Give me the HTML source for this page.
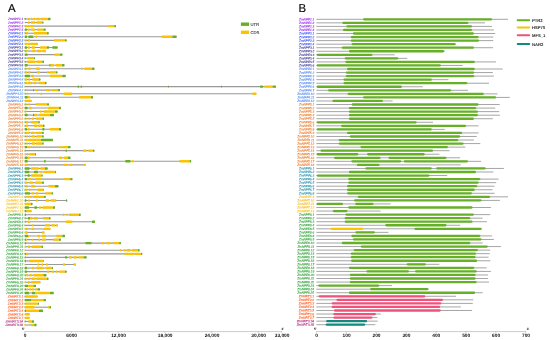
<!DOCTYPE html>
<html lang="en"><head><meta charset="utf-8"><title>Figure</title>
<style>html,body{margin:0;padding:0;background:#fff}svg{display:block}</style></head>
<body>
<svg width="550" height="340" viewBox="0 0 550 340" font-family="'Liberation Sans', sans-serif" text-rendering="geometricPrecision">
<rect width="550" height="340" fill="#fff"/>
<text x="8.1" y="12.1" font-size="11.4" fill="#000" stroke="#000" stroke-width="0.15">A</text>
<text x="298.6" y="12.1" font-size="11.4" fill="#000" stroke="#000" stroke-width="0.15">B</text>
<g font-size="3.2" font-style="italic" font-weight="normal" text-anchor="end" stroke-width="0.12" transform="rotate(0.03 15 170)" opacity="1.0">
<text x="23.3" y="20.10" fill="#9a2cf0" stroke="#9a2cf0">ZmNPF1.1</text>
<text x="23.3" y="23.66" fill="#9a2cf0" stroke="#9a2cf0">ZmNPF1.2</text>
<text x="23.3" y="27.22" fill="#9a2cf0" stroke="#9a2cf0">ZmNPF1.3</text>
<text x="23.3" y="30.77" fill="#9a2cf0" stroke="#9a2cf0">ZmNPF1.4</text>
<text x="23.3" y="34.33" fill="#3d5af5" stroke="#3d5af5">ZmNPF2.1</text>
<text x="23.3" y="37.89" fill="#3d5af5" stroke="#3d5af5">ZmNPF2.2</text>
<text x="23.3" y="41.45" fill="#3d5af5" stroke="#3d5af5">ZmNPF2.3</text>
<text x="23.3" y="45.01" fill="#3d5af5" stroke="#3d5af5">ZmNPF2.4</text>
<text x="23.3" y="48.56" fill="#4a4596" stroke="#4a4596">ZmNPF3.1</text>
<text x="23.3" y="52.12" fill="#4a4596" stroke="#4a4596">ZmNPF3.2</text>
<text x="23.3" y="55.68" fill="#4a4596" stroke="#4a4596">ZmNPF3.3</text>
<text x="23.3" y="59.24" fill="#4a4596" stroke="#4a4596">ZmNPF3.4</text>
<text x="23.3" y="62.80" fill="#4a4596" stroke="#4a4596">ZmNPF3.5</text>
<text x="23.3" y="66.35" fill="#4a4596" stroke="#4a4596">ZmNPF3.6</text>
<text x="23.3" y="69.91" fill="#5c8ff0" stroke="#5c8ff0">ZmNPF4.1</text>
<text x="23.3" y="73.47" fill="#5c8ff0" stroke="#5c8ff0">ZmNPF4.2</text>
<text x="23.3" y="77.03" fill="#5c8ff0" stroke="#5c8ff0">ZmNPF4.3</text>
<text x="23.3" y="80.59" fill="#5c8ff0" stroke="#5c8ff0">ZmNPF4.4</text>
<text x="23.3" y="84.14" fill="#5c8ff0" stroke="#5c8ff0">ZmNPF4.5</text>
<text x="23.3" y="87.70" fill="#5c8ff0" stroke="#5c8ff0">ZmNPF4.6</text>
<text x="23.3" y="91.26" fill="#5c8ff0" stroke="#5c8ff0">ZmNPF4.7</text>
<text x="23.3" y="94.82" fill="#5c8ff0" stroke="#5c8ff0">ZmNPF4.10</text>
<text x="23.3" y="98.38" fill="#5c8ff0" stroke="#5c8ff0">ZmNPF4.11</text>
<text x="23.3" y="101.93" fill="#5c8ff0" stroke="#5c8ff0">ZmNPF4.12</text>
<text x="23.3" y="105.49" fill="#e8833a" stroke="#e8833a">ZmNPF5.1</text>
<text x="23.3" y="109.05" fill="#e8833a" stroke="#e8833a">ZmNPF5.2</text>
<text x="23.3" y="112.61" fill="#e8833a" stroke="#e8833a">ZmNPF5.3</text>
<text x="23.3" y="116.17" fill="#e8833a" stroke="#e8833a">ZmNPF5.4</text>
<text x="23.3" y="119.72" fill="#e8833a" stroke="#e8833a">ZmNPF5.5</text>
<text x="23.3" y="123.28" fill="#e8833a" stroke="#e8833a">ZmNPF5.6</text>
<text x="23.3" y="126.84" fill="#e8833a" stroke="#e8833a">ZmNPF5.7</text>
<text x="23.3" y="130.40" fill="#e8833a" stroke="#e8833a">ZmNPF5.8</text>
<text x="23.3" y="133.96" fill="#e8833a" stroke="#e8833a">ZmNPF5.9</text>
<text x="23.3" y="137.51" fill="#e8833a" stroke="#e8833a">ZmNPF5.10</text>
<text x="23.3" y="141.07" fill="#e8833a" stroke="#e8833a">ZmNPF5.11</text>
<text x="23.3" y="144.63" fill="#e8833a" stroke="#e8833a">ZmNPF5.12</text>
<text x="23.3" y="148.19" fill="#e8833a" stroke="#e8833a">ZmNPF5.13</text>
<text x="23.3" y="151.75" fill="#e8833a" stroke="#e8833a">ZmNPF5.14</text>
<text x="23.3" y="155.30" fill="#e8833a" stroke="#e8833a">ZmNPF5.15</text>
<text x="23.3" y="158.86" fill="#e8833a" stroke="#e8833a">ZmNPF5.16</text>
<text x="23.3" y="162.42" fill="#e8833a" stroke="#e8833a">ZmNPF5.17</text>
<text x="23.3" y="165.98" fill="#e8833a" stroke="#e8833a">ZmNPF5.18</text>
<text x="23.3" y="169.54" fill="#2f93ad" stroke="#2f93ad">ZmNPF6.1</text>
<text x="23.3" y="173.09" fill="#2f93ad" stroke="#2f93ad">ZmNPF6.2</text>
<text x="23.3" y="176.65" fill="#2f93ad" stroke="#2f93ad">ZmNPF6.3</text>
<text x="23.3" y="180.21" fill="#2f93ad" stroke="#2f93ad">ZmNPF6.4</text>
<text x="23.3" y="183.77" fill="#2f93ad" stroke="#2f93ad">ZmNPF6.5</text>
<text x="23.3" y="187.33" fill="#2f93ad" stroke="#2f93ad">ZmNPF6.6</text>
<text x="23.3" y="190.88" fill="#2f93ad" stroke="#2f93ad">ZmNPF6.7</text>
<text x="23.3" y="194.44" fill="#2f93ad" stroke="#2f93ad">ZmNPF6.8</text>
<text x="23.3" y="198.00" fill="#f5c030" stroke="#f5c030">ZmNPF7.9</text>
<text x="23.3" y="201.56" fill="#f5c030" stroke="#f5c030">ZmNPF7.10</text>
<text x="23.3" y="205.12" fill="#f5c030" stroke="#f5c030">ZmNPF7.11</text>
<text x="23.3" y="208.67" fill="#f5c030" stroke="#f5c030">ZmNPF7.12</text>
<text x="23.3" y="212.23" fill="#f5c030" stroke="#f5c030">ZmNPF7.13</text>
<text x="23.3" y="215.79" fill="#3aa840" stroke="#3aa840">ZmNPF8.1</text>
<text x="23.3" y="219.35" fill="#3aa840" stroke="#3aa840">ZmNPF8.2</text>
<text x="23.3" y="222.91" fill="#3aa840" stroke="#3aa840">ZmNPF8.3</text>
<text x="23.3" y="226.46" fill="#3aa840" stroke="#3aa840">ZmNPF8.4</text>
<text x="23.3" y="230.02" fill="#3aa840" stroke="#3aa840">ZmNPF8.5</text>
<text x="23.3" y="233.58" fill="#3aa840" stroke="#3aa840">ZmNPF8.6</text>
<text x="23.3" y="237.14" fill="#3aa840" stroke="#3aa840">ZmNPF8.8</text>
<text x="23.3" y="240.70" fill="#3aa840" stroke="#3aa840">ZmNPF8.9</text>
<text x="23.3" y="244.25" fill="#3aa840" stroke="#3aa840">ZmNPF8.10</text>
<text x="23.3" y="247.81" fill="#3aa840" stroke="#3aa840">ZmNPF8.11</text>
<text x="23.3" y="251.37" fill="#3aa840" stroke="#3aa840">ZmNPF8.12</text>
<text x="23.3" y="254.93" fill="#3aa840" stroke="#3aa840">ZmNPF8.14</text>
<text x="23.3" y="258.49" fill="#3aa840" stroke="#3aa840">ZmNPF8.15</text>
<text x="23.3" y="262.04" fill="#3aa840" stroke="#3aa840">ZmNPF8.16</text>
<text x="23.3" y="265.60" fill="#3aa840" stroke="#3aa840">ZmNPF8.17</text>
<text x="23.3" y="269.16" fill="#3aa840" stroke="#3aa840">ZmNPF8.18</text>
<text x="23.3" y="272.72" fill="#3aa840" stroke="#3aa840">ZmNPF8.19</text>
<text x="23.3" y="276.28" fill="#3aa840" stroke="#3aa840">ZmNPF8.20</text>
<text x="23.3" y="279.83" fill="#3aa840" stroke="#3aa840">ZmNPF8.21</text>
<text x="23.3" y="283.39" fill="#3aa840" stroke="#3aa840">ZmNPF8.22</text>
<text x="23.3" y="286.95" fill="#3aa840" stroke="#3aa840">ZmNPF8.23</text>
<text x="23.3" y="290.51" fill="#3aa840" stroke="#3aa840">ZmNPF8.24</text>
<text x="23.3" y="294.07" fill="#3aa840" stroke="#3aa840">ZmNPF8.25</text>
<text x="23.3" y="297.62" fill="#ff5a1e" stroke="#ff5a1e">ZmNRT2.1</text>
<text x="23.3" y="301.18" fill="#ff5a1e" stroke="#ff5a1e">ZmNRT2.2</text>
<text x="23.3" y="304.74" fill="#ff5a1e" stroke="#ff5a1e">ZmNRT2.3</text>
<text x="23.3" y="308.30" fill="#ff5a1e" stroke="#ff5a1e">ZmNRT2.4</text>
<text x="23.3" y="311.86" fill="#ff5a1e" stroke="#ff5a1e">ZmNRT2.5</text>
<text x="23.3" y="315.41" fill="#ff5a1e" stroke="#ff5a1e">ZmNRT2.6</text>
<text x="23.3" y="318.97" fill="#ff5a1e" stroke="#ff5a1e">ZmNRT2.7</text>
<text x="23.3" y="322.53" fill="#b0307f" stroke="#b0307f">ZmNRT3.1A</text>
<text x="23.3" y="326.09" fill="#b0307f" stroke="#b0307f">ZmNRT3.1B</text>
</g>
<g font-size="3.15" font-style="italic" font-weight="normal" text-anchor="end" stroke-width="0.12" transform="rotate(0.03 307 170)" opacity="1.0">
<text x="314.2" y="20.40" fill="#9a2cf0" stroke="#9a2cf0">ZmNPF1.1</text>
<text x="314.2" y="23.95" fill="#9a2cf0" stroke="#9a2cf0">ZmNPF1.2</text>
<text x="314.2" y="27.50" fill="#9a2cf0" stroke="#9a2cf0">ZmNPF1.3</text>
<text x="314.2" y="31.05" fill="#9a2cf0" stroke="#9a2cf0">ZmNPF1.4</text>
<text x="314.2" y="34.60" fill="#3d5af5" stroke="#3d5af5">ZmNPF2.1</text>
<text x="314.2" y="38.16" fill="#3d5af5" stroke="#3d5af5">ZmNPF2.2</text>
<text x="314.2" y="41.71" fill="#3d5af5" stroke="#3d5af5">ZmNPF2.3</text>
<text x="314.2" y="45.26" fill="#3d5af5" stroke="#3d5af5">ZmNPF2.4</text>
<text x="314.2" y="48.81" fill="#4a4596" stroke="#4a4596">ZmNPF3.1</text>
<text x="314.2" y="52.36" fill="#4a4596" stroke="#4a4596">ZmNPF3.2</text>
<text x="314.2" y="55.91" fill="#4a4596" stroke="#4a4596">ZmNPF3.3</text>
<text x="314.2" y="59.46" fill="#4a4596" stroke="#4a4596">ZmNPF3.4</text>
<text x="314.2" y="63.01" fill="#4a4596" stroke="#4a4596">ZmNPF3.5</text>
<text x="314.2" y="66.56" fill="#4a4596" stroke="#4a4596">ZmNPF3.6</text>
<text x="314.2" y="70.11" fill="#5c8ff0" stroke="#5c8ff0">ZmNPF4.1</text>
<text x="314.2" y="73.66" fill="#5c8ff0" stroke="#5c8ff0">ZmNPF4.2</text>
<text x="314.2" y="77.22" fill="#5c8ff0" stroke="#5c8ff0">ZmNPF4.3</text>
<text x="314.2" y="80.77" fill="#5c8ff0" stroke="#5c8ff0">ZmNPF4.4</text>
<text x="314.2" y="84.32" fill="#5c8ff0" stroke="#5c8ff0">ZmNPF4.5</text>
<text x="314.2" y="87.87" fill="#5c8ff0" stroke="#5c8ff0">ZmNPF4.6</text>
<text x="314.2" y="91.42" fill="#5c8ff0" stroke="#5c8ff0">ZmNPF4.7</text>
<text x="314.2" y="94.97" fill="#5c8ff0" stroke="#5c8ff0">ZmNPF4.10</text>
<text x="314.2" y="98.52" fill="#5c8ff0" stroke="#5c8ff0">ZmNPF4.11</text>
<text x="314.2" y="102.07" fill="#5c8ff0" stroke="#5c8ff0">ZmNPF4.12</text>
<text x="314.2" y="105.62" fill="#e8833a" stroke="#e8833a">ZmNPF5.1</text>
<text x="314.2" y="109.17" fill="#e8833a" stroke="#e8833a">ZmNPF5.2</text>
<text x="314.2" y="112.73" fill="#e8833a" stroke="#e8833a">ZmNPF5.3</text>
<text x="314.2" y="116.28" fill="#e8833a" stroke="#e8833a">ZmNPF5.4</text>
<text x="314.2" y="119.83" fill="#e8833a" stroke="#e8833a">ZmNPF5.5</text>
<text x="314.2" y="123.38" fill="#e8833a" stroke="#e8833a">ZmNPF5.6</text>
<text x="314.2" y="126.93" fill="#e8833a" stroke="#e8833a">ZmNPF5.7</text>
<text x="314.2" y="130.48" fill="#e8833a" stroke="#e8833a">ZmNPF5.8</text>
<text x="314.2" y="134.03" fill="#e8833a" stroke="#e8833a">ZmNPF5.9</text>
<text x="314.2" y="137.58" fill="#e8833a" stroke="#e8833a">ZmNPF5.10</text>
<text x="314.2" y="141.13" fill="#e8833a" stroke="#e8833a">ZmNPF5.11</text>
<text x="314.2" y="144.69" fill="#e8833a" stroke="#e8833a">ZmNPF5.12</text>
<text x="314.2" y="148.24" fill="#e8833a" stroke="#e8833a">ZmNPF5.13</text>
<text x="314.2" y="151.79" fill="#e8833a" stroke="#e8833a">ZmNPF5.14</text>
<text x="314.2" y="155.34" fill="#e8833a" stroke="#e8833a">ZmNPF5.15</text>
<text x="314.2" y="158.89" fill="#e8833a" stroke="#e8833a">ZmNPF5.16</text>
<text x="314.2" y="162.44" fill="#e8833a" stroke="#e8833a">ZmNPF5.17</text>
<text x="314.2" y="165.99" fill="#e8833a" stroke="#e8833a">ZmNPF5.18</text>
<text x="314.2" y="169.54" fill="#2f93ad" stroke="#2f93ad">ZmNPF6.1</text>
<text x="314.2" y="173.09" fill="#2f93ad" stroke="#2f93ad">ZmNPF6.2</text>
<text x="314.2" y="176.64" fill="#2f93ad" stroke="#2f93ad">ZmNPF6.3</text>
<text x="314.2" y="180.20" fill="#2f93ad" stroke="#2f93ad">ZmNPF6.4</text>
<text x="314.2" y="183.75" fill="#2f93ad" stroke="#2f93ad">ZmNPF6.5</text>
<text x="314.2" y="187.30" fill="#2f93ad" stroke="#2f93ad">ZmNPF6.6</text>
<text x="314.2" y="190.85" fill="#2f93ad" stroke="#2f93ad">ZmNPF6.7</text>
<text x="314.2" y="194.40" fill="#2f93ad" stroke="#2f93ad">ZmNPF6.8</text>
<text x="314.2" y="197.95" fill="#f5c030" stroke="#f5c030">ZmNPF7.9</text>
<text x="314.2" y="201.50" fill="#f5c030" stroke="#f5c030">ZmNPF7.10</text>
<text x="314.2" y="205.05" fill="#f5c030" stroke="#f5c030">ZmNPF7.11</text>
<text x="314.2" y="208.60" fill="#f5c030" stroke="#f5c030">ZmNPF7.12</text>
<text x="314.2" y="212.15" fill="#f5c030" stroke="#f5c030">ZmNPF7.13</text>
<text x="314.2" y="215.71" fill="#3aa840" stroke="#3aa840">ZmNPF8.1</text>
<text x="314.2" y="219.26" fill="#3aa840" stroke="#3aa840">ZmNPF8.2</text>
<text x="314.2" y="222.81" fill="#3aa840" stroke="#3aa840">ZmNPF8.3</text>
<text x="314.2" y="226.36" fill="#3aa840" stroke="#3aa840">ZmNPF8.4</text>
<text x="314.2" y="229.91" fill="#3aa840" stroke="#3aa840">ZmNPF8.5</text>
<text x="314.2" y="233.46" fill="#3aa840" stroke="#3aa840">ZmNPF8.6</text>
<text x="314.2" y="237.01" fill="#3aa840" stroke="#3aa840">ZmNPF8.8</text>
<text x="314.2" y="240.56" fill="#3aa840" stroke="#3aa840">ZmNPF8.9</text>
<text x="314.2" y="244.11" fill="#3aa840" stroke="#3aa840">ZmNPF8.10</text>
<text x="314.2" y="247.66" fill="#3aa840" stroke="#3aa840">ZmNPF8.11</text>
<text x="314.2" y="251.22" fill="#3aa840" stroke="#3aa840">ZmNPF8.12</text>
<text x="314.2" y="254.77" fill="#3aa840" stroke="#3aa840">ZmNPF8.14</text>
<text x="314.2" y="258.32" fill="#3aa840" stroke="#3aa840">ZmNPF8.15</text>
<text x="314.2" y="261.87" fill="#3aa840" stroke="#3aa840">ZmNPF8.16</text>
<text x="314.2" y="265.42" fill="#3aa840" stroke="#3aa840">ZmNPF8.17</text>
<text x="314.2" y="268.97" fill="#3aa840" stroke="#3aa840">ZmNPF8.18</text>
<text x="314.2" y="272.52" fill="#3aa840" stroke="#3aa840">ZmNPF8.19</text>
<text x="314.2" y="276.07" fill="#3aa840" stroke="#3aa840">ZmNPF8.20</text>
<text x="314.2" y="279.62" fill="#3aa840" stroke="#3aa840">ZmNPF8.21</text>
<text x="314.2" y="283.17" fill="#3aa840" stroke="#3aa840">ZmNPF8.22</text>
<text x="314.2" y="286.73" fill="#3aa840" stroke="#3aa840">ZmNPF8.23</text>
<text x="314.2" y="290.28" fill="#3aa840" stroke="#3aa840">ZmNPF8.24</text>
<text x="314.2" y="293.83" fill="#3aa840" stroke="#3aa840">ZmNPF8.25</text>
<text x="314.2" y="297.38" fill="#ff5a1e" stroke="#ff5a1e">ZmNRT2.1</text>
<text x="314.2" y="300.93" fill="#ff5a1e" stroke="#ff5a1e">ZmNRT2.2</text>
<text x="314.2" y="304.48" fill="#ff5a1e" stroke="#ff5a1e">ZmNRT2.3</text>
<text x="314.2" y="308.03" fill="#ff5a1e" stroke="#ff5a1e">ZmNRT2.4</text>
<text x="314.2" y="311.58" fill="#ff5a1e" stroke="#ff5a1e">ZmNRT2.5</text>
<text x="314.2" y="315.13" fill="#ff5a1e" stroke="#ff5a1e">ZmNRT2.6</text>
<text x="314.2" y="318.68" fill="#ff5a1e" stroke="#ff5a1e">ZmNRT2.7</text>
<text x="314.2" y="322.24" fill="#b0307f" stroke="#b0307f">ZmNRT3.1A</text>
<text x="314.2" y="325.79" fill="#b0307f" stroke="#b0307f">ZmNRT3.1B</text>
</g>
<g stroke="#999999" stroke-width="1.1">
<line x1="24.7" y1="19.00" x2="50.4" y2="19.00"/>
<line x1="24.7" y1="22.56" x2="43.4" y2="22.56"/>
<line x1="24.7" y1="26.12" x2="116.0" y2="26.12"/>
<line x1="24.7" y1="29.67" x2="45.6" y2="29.67"/>
<line x1="24.7" y1="33.23" x2="48.6" y2="33.23"/>
<line x1="24.7" y1="36.79" x2="176.6" y2="36.79"/>
<line x1="24.7" y1="40.35" x2="66.6" y2="40.35"/>
<line x1="24.7" y1="43.91" x2="38.0" y2="43.91"/>
<line x1="24.7" y1="47.46" x2="57.6" y2="47.46"/>
<line x1="24.7" y1="51.02" x2="46.0" y2="51.02"/>
<line x1="24.7" y1="54.58" x2="62.4" y2="54.58"/>
<line x1="24.7" y1="58.14" x2="35.0" y2="58.14"/>
<line x1="24.7" y1="61.70" x2="44.0" y2="61.70"/>
<line x1="24.7" y1="65.25" x2="64.4" y2="65.25"/>
<line x1="24.7" y1="68.81" x2="94.4" y2="68.81"/>
<line x1="24.7" y1="72.37" x2="57.4" y2="72.37"/>
<line x1="24.7" y1="75.93" x2="65.6" y2="75.93"/>
<line x1="24.7" y1="79.49" x2="40.4" y2="79.49"/>
<line x1="24.7" y1="83.04" x2="46.4" y2="83.04"/>
<line x1="24.7" y1="86.60" x2="276.0" y2="86.60"/>
<line x1="24.7" y1="90.16" x2="60.0" y2="90.16"/>
<line x1="24.7" y1="93.72" x2="256.4" y2="93.72"/>
<line x1="24.7" y1="97.28" x2="93.0" y2="97.28"/>
<line x1="24.7" y1="100.83" x2="31.6" y2="100.83"/>
<line x1="24.7" y1="104.39" x2="49.0" y2="104.39"/>
<line x1="24.7" y1="107.95" x2="61.0" y2="107.95"/>
<line x1="24.7" y1="111.51" x2="57.6" y2="111.51"/>
<line x1="24.7" y1="115.07" x2="54.0" y2="115.07"/>
<line x1="24.7" y1="118.62" x2="44.0" y2="118.62"/>
<line x1="24.7" y1="122.18" x2="39.6" y2="122.18"/>
<line x1="24.7" y1="125.74" x2="44.4" y2="125.74"/>
<line x1="24.7" y1="129.30" x2="61.0" y2="129.30"/>
<line x1="24.7" y1="132.86" x2="43.6" y2="132.86"/>
<line x1="24.7" y1="136.41" x2="43.6" y2="136.41"/>
<line x1="24.7" y1="139.97" x2="53.0" y2="139.97"/>
<line x1="24.7" y1="143.53" x2="43.6" y2="143.53"/>
<line x1="24.7" y1="147.09" x2="70.4" y2="147.09"/>
<line x1="24.7" y1="150.65" x2="94.4" y2="150.65"/>
<line x1="24.7" y1="154.20" x2="36.0" y2="154.20"/>
<line x1="24.7" y1="157.76" x2="70.4" y2="157.76"/>
<line x1="24.7" y1="161.32" x2="191.1" y2="161.32"/>
<line x1="24.7" y1="164.88" x2="85.8" y2="164.88"/>
<line x1="24.7" y1="168.44" x2="47.6" y2="168.44"/>
<line x1="24.7" y1="171.99" x2="56.0" y2="171.99"/>
<line x1="24.7" y1="175.55" x2="42.6" y2="175.55"/>
<line x1="24.7" y1="179.11" x2="72.4" y2="179.11"/>
<line x1="24.7" y1="182.67" x2="44.0" y2="182.67"/>
<line x1="24.7" y1="186.23" x2="58.4" y2="186.23"/>
<line x1="24.7" y1="189.78" x2="43.6" y2="189.78"/>
<line x1="24.7" y1="193.34" x2="53.0" y2="193.34"/>
<line x1="24.7" y1="196.90" x2="45.6" y2="196.90"/>
<line x1="24.7" y1="200.46" x2="67.2" y2="200.46"/>
<line x1="24.7" y1="204.02" x2="32.4" y2="204.02"/>
<line x1="24.7" y1="207.57" x2="55.0" y2="207.57"/>
<line x1="24.7" y1="211.13" x2="31.6" y2="211.13"/>
<line x1="24.7" y1="214.69" x2="80.6" y2="214.69"/>
<line x1="24.7" y1="218.25" x2="50.4" y2="218.25"/>
<line x1="24.7" y1="221.81" x2="95.0" y2="221.81"/>
<line x1="24.7" y1="225.36" x2="58.0" y2="225.36"/>
<line x1="24.7" y1="228.92" x2="50.4" y2="228.92"/>
<line x1="24.7" y1="232.48" x2="44.4" y2="232.48"/>
<line x1="24.7" y1="236.04" x2="65.0" y2="236.04"/>
<line x1="24.7" y1="239.60" x2="61.0" y2="239.60"/>
<line x1="24.7" y1="243.15" x2="120.9" y2="243.15"/>
<line x1="24.7" y1="246.71" x2="43.0" y2="246.71"/>
<line x1="24.7" y1="250.27" x2="139.5" y2="250.27"/>
<line x1="24.7" y1="253.83" x2="142.2" y2="253.83"/>
<line x1="24.7" y1="257.39" x2="86.6" y2="257.39"/>
<line x1="24.7" y1="260.94" x2="43.6" y2="260.94"/>
<line x1="24.7" y1="264.50" x2="76.0" y2="264.50"/>
<line x1="24.7" y1="268.06" x2="53.0" y2="268.06"/>
<line x1="24.7" y1="271.62" x2="66.6" y2="271.62"/>
<line x1="24.7" y1="275.18" x2="46.4" y2="275.18"/>
<line x1="24.7" y1="278.73" x2="48.4" y2="278.73"/>
<line x1="24.7" y1="282.29" x2="40.4" y2="282.29"/>
<line x1="24.7" y1="285.85" x2="36.0" y2="285.85"/>
<line x1="24.7" y1="289.41" x2="40.0" y2="289.41"/>
<line x1="24.7" y1="292.97" x2="53.6" y2="292.97"/>
<line x1="24.7" y1="296.52" x2="37.6" y2="296.52"/>
<line x1="24.7" y1="300.08" x2="46.0" y2="300.08"/>
<line x1="24.7" y1="303.64" x2="39.0" y2="303.64"/>
<line x1="24.7" y1="307.20" x2="51.0" y2="307.20"/>
<line x1="24.7" y1="310.76" x2="43.0" y2="310.76"/>
<line x1="24.7" y1="314.31" x2="29.6" y2="314.31"/>
<line x1="24.7" y1="317.87" x2="29.6" y2="317.87"/>
<line x1="24.7" y1="321.43" x2="34.0" y2="321.43"/>
<line x1="24.7" y1="324.99" x2="36.4" y2="324.99"/>
</g>
<rect x="24.7" y="17.80" width="0.9" height="2.4" rx="0.45" fill="#66b028"/>
<rect x="28.0" y="17.80" width="2.0" height="2.4" rx="0.50" fill="#fcc400"/>
<rect x="31.0" y="17.80" width="1.4" height="2.4" rx="0.50" fill="#fcc400"/>
<rect x="33.6" y="17.80" width="1.6" height="2.4" rx="0.50" fill="#fcc400"/>
<rect x="36.4" y="17.80" width="3.2" height="2.4" rx="0.50" fill="#fcc400"/>
<rect x="40.6" y="17.80" width="7.4" height="2.4" rx="0.50" fill="#fcc400"/>
<rect x="48.0" y="17.80" width="2.4" height="2.4" rx="0.50" fill="#66b028"/>
<rect x="28.0" y="21.36" width="1.6" height="2.4" rx="0.50" fill="#fcc400"/>
<rect x="31.0" y="21.36" width="4.0" height="2.4" rx="0.50" fill="#fcc400"/>
<rect x="36.4" y="21.36" width="6.0" height="2.4" rx="0.50" fill="#fcc400"/>
<rect x="42.4" y="21.36" width="1.0" height="2.4" rx="0.50" fill="#66b028"/>
<rect x="24.7" y="24.92" width="0.7" height="2.4" rx="0.35" fill="#66b028"/>
<rect x="25.4" y="24.92" width="1.6" height="2.4" rx="0.50" fill="#fcc400"/>
<rect x="28.0" y="24.92" width="1.2" height="2.4" rx="0.50" fill="#fcc400"/>
<rect x="30.0" y="24.92" width="3.6" height="2.4" rx="0.50" fill="#fcc400"/>
<rect x="108.0" y="24.92" width="6.4" height="2.4" rx="0.50" fill="#fcc400"/>
<rect x="114.4" y="24.92" width="1.6" height="2.4" rx="0.50" fill="#66b028"/>
<rect x="24.7" y="28.47" width="2.3" height="2.4" rx="0.50" fill="#66b028"/>
<rect x="28.0" y="28.47" width="1.6" height="2.4" rx="0.50" fill="#fcc400"/>
<rect x="31.0" y="28.47" width="4.0" height="2.4" rx="0.50" fill="#fcc400"/>
<rect x="37.0" y="28.47" width="6.6" height="2.4" rx="0.50" fill="#fcc400"/>
<rect x="43.6" y="28.47" width="2.0" height="2.4" rx="0.50" fill="#66b028"/>
<rect x="24.7" y="32.03" width="0.7" height="2.4" rx="0.35" fill="#66b028"/>
<rect x="26.0" y="32.03" width="2.0" height="2.4" rx="0.50" fill="#fcc400"/>
<rect x="34.0" y="32.03" width="13.0" height="2.4" rx="0.50" fill="#fcc400"/>
<rect x="47.0" y="32.03" width="1.6" height="2.4" rx="0.50" fill="#66b028"/>
<rect x="24.7" y="35.59" width="2.3" height="2.4" rx="0.50" fill="#66b028"/>
<rect x="28.4" y="35.59" width="4.6" height="2.4" rx="0.50" fill="#66b028"/>
<rect x="33.0" y="35.59" width="1.0" height="2.4" rx="0.50" fill="#fcc400"/>
<rect x="35.6" y="35.59" width="1.4" height="2.4" rx="0.50" fill="#fcc400"/>
<rect x="161.6" y="35.59" width="10.8" height="2.4" rx="0.50" fill="#fcc400"/>
<rect x="172.4" y="35.59" width="4.2" height="2.4" rx="0.50" fill="#66b028"/>
<rect x="24.7" y="39.15" width="0.7" height="2.4" rx="0.35" fill="#66b028"/>
<rect x="25.4" y="39.15" width="1.0" height="2.4" rx="0.50" fill="#fcc400"/>
<rect x="28.0" y="39.15" width="2.0" height="2.4" rx="0.50" fill="#fcc400"/>
<rect x="54.0" y="39.15" width="11.0" height="2.4" rx="0.50" fill="#fcc400"/>
<rect x="65.0" y="39.15" width="1.6" height="2.4" rx="0.50" fill="#66b028"/>
<rect x="24.7" y="42.71" width="2.3" height="2.4" rx="0.50" fill="#fcc400"/>
<rect x="28.0" y="42.71" width="1.6" height="2.4" rx="0.50" fill="#fcc400"/>
<rect x="30.4" y="42.71" width="7.6" height="2.4" rx="0.50" fill="#fcc400"/>
<rect x="24.7" y="46.26" width="2.3" height="2.4" rx="0.50" fill="#66b028"/>
<rect x="28.0" y="46.26" width="2.0" height="2.4" rx="0.50" fill="#fcc400"/>
<rect x="31.6" y="46.26" width="3.4" height="2.4" rx="0.50" fill="#fcc400"/>
<rect x="40.0" y="46.26" width="7.0" height="2.4" rx="0.50" fill="#fcc400"/>
<rect x="47.0" y="46.26" width="2.0" height="2.4" rx="0.50" fill="#66b028"/>
<rect x="52.4" y="46.26" width="5.2" height="2.4" rx="0.50" fill="#66b028"/>
<rect x="24.7" y="49.82" width="0.9" height="2.4" rx="0.45" fill="#66b028"/>
<rect x="25.6" y="49.82" width="1.4" height="2.4" rx="0.50" fill="#fcc400"/>
<rect x="32.4" y="49.82" width="2.6" height="2.4" rx="0.50" fill="#fcc400"/>
<rect x="37.0" y="49.82" width="4.0" height="2.4" rx="0.50" fill="#fcc400"/>
<rect x="42.4" y="49.82" width="3.6" height="2.4" rx="0.50" fill="#fcc400"/>
<rect x="24.7" y="53.38" width="2.9" height="2.4" rx="0.50" fill="#66b028"/>
<rect x="54.4" y="53.38" width="5.6" height="2.4" rx="0.50" fill="#fcc400"/>
<rect x="60.0" y="53.38" width="2.4" height="2.4" rx="0.50" fill="#66b028"/>
<rect x="24.7" y="56.94" width="0.7" height="2.4" rx="0.35" fill="#66b028"/>
<rect x="28.0" y="56.94" width="6.0" height="2.4" rx="0.50" fill="#fcc400"/>
<rect x="34.0" y="56.94" width="1.0" height="2.4" rx="0.50" fill="#66b028"/>
<rect x="24.7" y="60.50" width="0.9" height="2.4" rx="0.45" fill="#66b028"/>
<rect x="27.0" y="60.50" width="8.0" height="2.4" rx="0.50" fill="#fcc400"/>
<rect x="36.4" y="60.50" width="6.0" height="2.4" rx="0.50" fill="#fcc400"/>
<rect x="42.4" y="60.50" width="1.6" height="2.4" rx="0.50" fill="#66b028"/>
<rect x="24.7" y="64.05" width="2.9" height="2.4" rx="0.50" fill="#66b028"/>
<rect x="49.4" y="64.05" width="1.2" height="2.4" rx="0.50" fill="#66b028"/>
<rect x="50.6" y="64.05" width="3.4" height="2.4" rx="0.50" fill="#fcc400"/>
<rect x="55.6" y="64.05" width="6.4" height="2.4" rx="0.50" fill="#fcc400"/>
<rect x="62.0" y="64.05" width="2.4" height="2.4" rx="0.50" fill="#66b028"/>
<rect x="24.7" y="67.61" width="0.9" height="2.4" rx="0.45" fill="#66b028"/>
<rect x="25.6" y="67.61" width="0.8" height="2.4" rx="0.40" fill="#fcc400"/>
<rect x="28.4" y="67.61" width="2.0" height="2.4" rx="0.50" fill="#fcc400"/>
<rect x="36.0" y="67.61" width="4.0" height="2.4" rx="0.50" fill="#fcc400"/>
<rect x="81.0" y="67.61" width="1.4" height="2.4" rx="0.50" fill="#fcc400"/>
<rect x="84.4" y="67.61" width="7.6" height="2.4" rx="0.50" fill="#fcc400"/>
<rect x="92.0" y="67.61" width="2.4" height="2.4" rx="0.50" fill="#66b028"/>
<rect x="24.7" y="71.17" width="0.7" height="2.4" rx="0.35" fill="#66b028"/>
<rect x="25.4" y="71.17" width="1.6" height="2.4" rx="0.50" fill="#fcc400"/>
<rect x="28.4" y="71.17" width="2.0" height="2.4" rx="0.50" fill="#fcc400"/>
<rect x="37.0" y="71.17" width="3.0" height="2.4" rx="0.50" fill="#fcc400"/>
<rect x="47.0" y="71.17" width="2.0" height="2.4" rx="0.50" fill="#fcc400"/>
<rect x="50.0" y="71.17" width="6.0" height="2.4" rx="0.50" fill="#fcc400"/>
<rect x="56.0" y="71.17" width="1.4" height="2.4" rx="0.50" fill="#66b028"/>
<rect x="24.7" y="74.73" width="5.3" height="2.4" rx="0.50" fill="#66b028"/>
<rect x="31.0" y="74.73" width="3.0" height="2.4" rx="0.50" fill="#fcc400"/>
<rect x="50.0" y="74.73" width="12.4" height="2.4" rx="0.50" fill="#fcc400"/>
<rect x="62.4" y="74.73" width="3.2" height="2.4" rx="0.50" fill="#66b028"/>
<rect x="24.7" y="78.29" width="0.3" height="2.4" rx="0.15" fill="#66b028"/>
<rect x="25.0" y="78.29" width="2.0" height="2.4" rx="0.50" fill="#fcc400"/>
<rect x="28.4" y="78.29" width="1.6" height="2.4" rx="0.50" fill="#fcc400"/>
<rect x="32.4" y="78.29" width="6.6" height="2.4" rx="0.50" fill="#fcc400"/>
<rect x="39.0" y="78.29" width="1.4" height="2.4" rx="0.50" fill="#66b028"/>
<rect x="24.7" y="81.84" width="0.7" height="2.4" rx="0.35" fill="#66b028"/>
<rect x="25.4" y="81.84" width="1.6" height="2.4" rx="0.50" fill="#fcc400"/>
<rect x="28.4" y="81.84" width="3.6" height="2.4" rx="0.50" fill="#fcc400"/>
<rect x="33.6" y="81.84" width="2.4" height="2.4" rx="0.50" fill="#fcc400"/>
<rect x="39.0" y="81.84" width="6.0" height="2.4" rx="0.50" fill="#fcc400"/>
<rect x="45.0" y="81.84" width="1.4" height="2.4" rx="0.50" fill="#66b028"/>
<rect x="24.7" y="85.40" width="0.3" height="2.4" rx="0.15" fill="#66b028"/>
<rect x="77.6" y="85.40" width="1.4" height="2.4" rx="0.50" fill="#66b028"/>
<rect x="80.6" y="85.40" width="1.4" height="2.4" rx="0.50" fill="#66b028"/>
<rect x="168.2" y="85.40" width="0.7" height="2.4" rx="0.35" fill="#66b028"/>
<rect x="221.3" y="85.40" width="0.7" height="2.4" rx="0.35" fill="#66b028"/>
<rect x="260.0" y="85.40" width="3.0" height="2.4" rx="0.50" fill="#66b028"/>
<rect x="264.5" y="85.40" width="8.1" height="2.4" rx="0.50" fill="#fcc400"/>
<rect x="272.6" y="85.40" width="3.4" height="2.4" rx="0.50" fill="#66b028"/>
<rect x="24.7" y="88.96" width="0.7" height="2.4" rx="0.35" fill="#66b028"/>
<rect x="33.0" y="88.96" width="1.0" height="2.4" rx="0.50" fill="#66b028"/>
<rect x="35.6" y="88.96" width="1.4" height="2.4" rx="0.50" fill="#fcc400"/>
<rect x="46.0" y="88.96" width="3.6" height="2.4" rx="0.50" fill="#fcc400"/>
<rect x="52.0" y="88.96" width="6.0" height="2.4" rx="0.50" fill="#fcc400"/>
<rect x="58.0" y="88.96" width="2.0" height="2.4" rx="0.50" fill="#66b028"/>
<rect x="24.7" y="92.52" width="0.7" height="2.4" rx="0.35" fill="#66b028"/>
<rect x="27.0" y="92.52" width="1.0" height="2.4" rx="0.50" fill="#fcc400"/>
<rect x="40.6" y="92.52" width="1.4" height="2.4" rx="0.50" fill="#fcc400"/>
<rect x="63.6" y="92.52" width="8.4" height="2.4" rx="0.50" fill="#fcc400"/>
<rect x="252.5" y="92.52" width="3.9" height="2.4" rx="0.50" fill="#fcc400"/>
<rect x="24.7" y="96.08" width="2.9" height="2.4" rx="0.50" fill="#66b028"/>
<rect x="28.0" y="96.08" width="2.0" height="2.4" rx="0.50" fill="#fcc400"/>
<rect x="79.0" y="96.08" width="12.0" height="2.4" rx="0.50" fill="#fcc400"/>
<rect x="91.0" y="96.08" width="2.0" height="2.4" rx="0.50" fill="#66b028"/>
<rect x="24.7" y="99.63" width="6.9" height="2.4" rx="0.50" fill="#fcc400"/>
<rect x="24.7" y="103.19" width="0.9" height="2.4" rx="0.45" fill="#66b028"/>
<rect x="25.6" y="103.19" width="1.0" height="2.4" rx="0.50" fill="#fcc400"/>
<rect x="28.4" y="103.19" width="1.6" height="2.4" rx="0.50" fill="#fcc400"/>
<rect x="35.6" y="103.19" width="11.4" height="2.4" rx="0.50" fill="#fcc400"/>
<rect x="47.0" y="103.19" width="2.0" height="2.4" rx="0.50" fill="#66b028"/>
<rect x="24.7" y="106.75" width="2.9" height="2.4" rx="0.50" fill="#66b028"/>
<rect x="29.0" y="106.75" width="2.6" height="2.4" rx="0.50" fill="#fcc400"/>
<rect x="48.0" y="106.75" width="11.0" height="2.4" rx="0.50" fill="#fcc400"/>
<rect x="59.0" y="106.75" width="2.0" height="2.4" rx="0.50" fill="#66b028"/>
<rect x="24.7" y="110.31" width="0.7" height="2.4" rx="0.35" fill="#66b028"/>
<rect x="25.4" y="110.31" width="1.0" height="2.4" rx="0.50" fill="#fcc400"/>
<rect x="40.0" y="110.31" width="1.6" height="2.4" rx="0.50" fill="#fcc400"/>
<rect x="43.6" y="110.31" width="11.4" height="2.4" rx="0.50" fill="#fcc400"/>
<rect x="55.0" y="110.31" width="2.6" height="2.4" rx="0.50" fill="#66b028"/>
<rect x="24.7" y="113.87" width="2.9" height="2.4" rx="0.50" fill="#66b028"/>
<rect x="33.0" y="113.87" width="1.4" height="2.4" rx="0.50" fill="#66b028"/>
<rect x="34.4" y="113.87" width="2.6" height="2.4" rx="0.50" fill="#fcc400"/>
<rect x="39.0" y="113.87" width="11.0" height="2.4" rx="0.50" fill="#fcc400"/>
<rect x="50.0" y="113.87" width="4.0" height="2.4" rx="0.50" fill="#66b028"/>
<rect x="24.7" y="117.42" width="0.7" height="2.4" rx="0.35" fill="#66b028"/>
<rect x="25.4" y="117.42" width="1.2" height="2.4" rx="0.50" fill="#fcc400"/>
<rect x="28.4" y="117.42" width="1.6" height="2.4" rx="0.50" fill="#fcc400"/>
<rect x="31.6" y="117.42" width="2.4" height="2.4" rx="0.50" fill="#fcc400"/>
<rect x="36.0" y="117.42" width="6.4" height="2.4" rx="0.50" fill="#fcc400"/>
<rect x="42.4" y="117.42" width="1.6" height="2.4" rx="0.50" fill="#66b028"/>
<rect x="24.7" y="120.98" width="0.7" height="2.4" rx="0.35" fill="#66b028"/>
<rect x="26.0" y="120.98" width="2.0" height="2.4" rx="0.50" fill="#fcc400"/>
<rect x="31.0" y="120.98" width="7.4" height="2.4" rx="0.50" fill="#fcc400"/>
<rect x="38.4" y="120.98" width="1.2" height="2.4" rx="0.50" fill="#66b028"/>
<rect x="24.7" y="124.54" width="0.7" height="2.4" rx="0.35" fill="#66b028"/>
<rect x="26.0" y="124.54" width="2.0" height="2.4" rx="0.50" fill="#fcc400"/>
<rect x="34.0" y="124.54" width="3.0" height="2.4" rx="0.50" fill="#fcc400"/>
<rect x="38.4" y="124.54" width="4.6" height="2.4" rx="0.50" fill="#fcc400"/>
<rect x="43.0" y="124.54" width="1.4" height="2.4" rx="0.50" fill="#66b028"/>
<rect x="24.7" y="128.10" width="2.3" height="2.4" rx="0.50" fill="#66b028"/>
<rect x="28.0" y="128.10" width="1.6" height="2.4" rx="0.50" fill="#fcc400"/>
<rect x="42.4" y="128.10" width="2.0" height="2.4" rx="0.50" fill="#66b028"/>
<rect x="49.6" y="128.10" width="9.4" height="2.4" rx="0.50" fill="#fcc400"/>
<rect x="59.0" y="128.10" width="2.0" height="2.4" rx="0.50" fill="#66b028"/>
<rect x="24.7" y="131.66" width="0.7" height="2.4" rx="0.35" fill="#66b028"/>
<rect x="26.0" y="131.66" width="3.0" height="2.4" rx="0.50" fill="#fcc400"/>
<rect x="31.0" y="131.66" width="3.4" height="2.4" rx="0.50" fill="#fcc400"/>
<rect x="36.0" y="131.66" width="6.0" height="2.4" rx="0.50" fill="#fcc400"/>
<rect x="42.0" y="131.66" width="1.6" height="2.4" rx="0.50" fill="#66b028"/>
<rect x="24.7" y="135.21" width="0.7" height="2.4" rx="0.35" fill="#66b028"/>
<rect x="26.4" y="135.21" width="1.6" height="2.4" rx="0.50" fill="#fcc400"/>
<rect x="29.0" y="135.21" width="1.4" height="2.4" rx="0.50" fill="#fcc400"/>
<rect x="31.6" y="135.21" width="3.4" height="2.4" rx="0.50" fill="#fcc400"/>
<rect x="36.4" y="135.21" width="5.6" height="2.4" rx="0.50" fill="#fcc400"/>
<rect x="42.0" y="135.21" width="1.6" height="2.4" rx="0.50" fill="#66b028"/>
<rect x="24.7" y="138.77" width="0.7" height="2.4" rx="0.35" fill="#66b028"/>
<rect x="25.4" y="138.77" width="1.6" height="2.4" rx="0.50" fill="#fcc400"/>
<rect x="28.0" y="138.77" width="13.0" height="2.4" rx="0.50" fill="#fcc400"/>
<rect x="41.0" y="138.77" width="12.0" height="2.4" rx="0.50" fill="#66b028"/>
<rect x="24.7" y="142.33" width="0.7" height="2.4" rx="0.35" fill="#66b028"/>
<rect x="26.4" y="142.33" width="1.2" height="2.4" rx="0.50" fill="#fcc400"/>
<rect x="29.0" y="142.33" width="1.0" height="2.4" rx="0.50" fill="#fcc400"/>
<rect x="31.6" y="142.33" width="3.4" height="2.4" rx="0.50" fill="#fcc400"/>
<rect x="36.0" y="142.33" width="6.4" height="2.4" rx="0.50" fill="#fcc400"/>
<rect x="42.4" y="142.33" width="1.2" height="2.4" rx="0.50" fill="#66b028"/>
<rect x="24.7" y="145.89" width="2.3" height="2.4" rx="0.50" fill="#66b028"/>
<rect x="28.0" y="145.89" width="2.4" height="2.4" rx="0.50" fill="#fcc400"/>
<rect x="57.0" y="145.89" width="1.4" height="2.4" rx="0.50" fill="#fcc400"/>
<rect x="60.0" y="145.89" width="1.0" height="2.4" rx="0.50" fill="#fcc400"/>
<rect x="62.4" y="145.89" width="5.6" height="2.4" rx="0.50" fill="#fcc400"/>
<rect x="68.0" y="145.89" width="2.4" height="2.4" rx="0.50" fill="#66b028"/>
<rect x="24.7" y="149.45" width="0.7" height="2.4" rx="0.35" fill="#66b028"/>
<rect x="65.6" y="149.45" width="1.4" height="2.4" rx="0.50" fill="#66b028"/>
<rect x="83.0" y="149.45" width="3.4" height="2.4" rx="0.50" fill="#fcc400"/>
<rect x="88.4" y="149.45" width="4.6" height="2.4" rx="0.50" fill="#fcc400"/>
<rect x="93.0" y="149.45" width="1.4" height="2.4" rx="0.50" fill="#66b028"/>
<rect x="24.7" y="153.00" width="1.3" height="2.4" rx="0.50" fill="#fcc400"/>
<rect x="27.0" y="153.00" width="1.4" height="2.4" rx="0.50" fill="#fcc400"/>
<rect x="29.6" y="153.00" width="5.4" height="2.4" rx="0.50" fill="#fcc400"/>
<rect x="35.0" y="153.00" width="1.0" height="2.4" rx="0.50" fill="#66b028"/>
<rect x="24.7" y="156.56" width="2.9" height="2.4" rx="0.50" fill="#66b028"/>
<rect x="27.6" y="156.56" width="2.0" height="2.4" rx="0.50" fill="#fcc400"/>
<rect x="59.0" y="156.56" width="3.0" height="2.4" rx="0.50" fill="#fcc400"/>
<rect x="63.6" y="156.56" width="4.4" height="2.4" rx="0.50" fill="#fcc400"/>
<rect x="68.0" y="156.56" width="2.4" height="2.4" rx="0.50" fill="#66b028"/>
<rect x="24.7" y="160.12" width="2.9" height="2.4" rx="0.50" fill="#66b028"/>
<rect x="44.0" y="160.12" width="1.6" height="2.4" rx="0.50" fill="#66b028"/>
<rect x="125.4" y="160.12" width="5.1" height="2.4" rx="0.50" fill="#66b028"/>
<rect x="132.0" y="160.12" width="1.5" height="2.4" rx="0.50" fill="#fcc400"/>
<rect x="179.4" y="160.12" width="10.2" height="2.4" rx="0.50" fill="#fcc400"/>
<rect x="189.6" y="160.12" width="1.5" height="2.4" rx="0.50" fill="#66b028"/>
<rect x="24.7" y="163.68" width="2.3" height="2.4" rx="0.50" fill="#fcc400"/>
<rect x="31.0" y="163.68" width="0.8" height="2.4" rx="0.40" fill="#fcc400"/>
<rect x="64.0" y="163.68" width="3.6" height="2.4" rx="0.50" fill="#fcc400"/>
<rect x="70.0" y="163.68" width="2.4" height="2.4" rx="0.50" fill="#fcc400"/>
<rect x="84.0" y="163.68" width="1.8" height="2.4" rx="0.50" fill="#fcc400"/>
<rect x="24.7" y="167.24" width="4.9" height="2.4" rx="0.50" fill="#66b028"/>
<rect x="31.0" y="167.24" width="8.0" height="2.4" rx="0.50" fill="#fcc400"/>
<rect x="40.4" y="167.24" width="4.6" height="2.4" rx="0.50" fill="#fcc400"/>
<rect x="45.0" y="167.24" width="2.6" height="2.4" rx="0.50" fill="#66b028"/>
<rect x="24.7" y="170.79" width="4.5" height="2.4" rx="0.50" fill="#66b028"/>
<rect x="34.0" y="170.79" width="4.0" height="2.4" rx="0.50" fill="#66b028"/>
<rect x="40.2" y="170.79" width="1.8" height="2.4" rx="0.50" fill="#fcc400"/>
<rect x="43.6" y="170.79" width="11.4" height="2.4" rx="0.50" fill="#fcc400"/>
<rect x="55.0" y="170.79" width="1.0" height="2.4" rx="0.50" fill="#66b028"/>
<rect x="24.7" y="174.35" width="0.9" height="2.4" rx="0.45" fill="#66b028"/>
<rect x="27.6" y="174.35" width="2.0" height="2.4" rx="0.50" fill="#66b028"/>
<rect x="31.0" y="174.35" width="10.6" height="2.4" rx="0.50" fill="#fcc400"/>
<rect x="41.6" y="174.35" width="1.0" height="2.4" rx="0.50" fill="#66b028"/>
<rect x="24.7" y="177.91" width="2.3" height="2.4" rx="0.50" fill="#66b028"/>
<rect x="28.4" y="177.91" width="2.6" height="2.4" rx="0.50" fill="#fcc400"/>
<rect x="36.0" y="177.91" width="5.0" height="2.4" rx="0.50" fill="#fcc400"/>
<rect x="64.4" y="177.91" width="6.0" height="2.4" rx="0.50" fill="#fcc400"/>
<rect x="70.4" y="177.91" width="2.0" height="2.4" rx="0.50" fill="#66b028"/>
<rect x="24.7" y="181.47" width="0.5" height="2.4" rx="0.25" fill="#66b028"/>
<rect x="25.2" y="181.47" width="2.2" height="2.4" rx="0.50" fill="#fcc400"/>
<rect x="29.2" y="181.47" width="4.0" height="2.4" rx="0.50" fill="#fcc400"/>
<rect x="35.0" y="181.47" width="7.0" height="2.4" rx="0.50" fill="#fcc400"/>
<rect x="42.0" y="181.47" width="2.0" height="2.4" rx="0.50" fill="#66b028"/>
<rect x="24.7" y="185.03" width="0.7" height="2.4" rx="0.35" fill="#66b028"/>
<rect x="26.4" y="185.03" width="1.6" height="2.4" rx="0.50" fill="#fcc400"/>
<rect x="31.0" y="185.03" width="4.0" height="2.4" rx="0.50" fill="#fcc400"/>
<rect x="48.4" y="185.03" width="6.6" height="2.4" rx="0.50" fill="#fcc400"/>
<rect x="55.0" y="185.03" width="3.4" height="2.4" rx="0.50" fill="#66b028"/>
<rect x="24.7" y="188.58" width="0.7" height="2.4" rx="0.35" fill="#66b028"/>
<rect x="25.4" y="188.58" width="1.6" height="2.4" rx="0.50" fill="#fcc400"/>
<rect x="29.0" y="188.58" width="1.4" height="2.4" rx="0.50" fill="#fcc400"/>
<rect x="37.6" y="188.58" width="5.4" height="2.4" rx="0.50" fill="#fcc400"/>
<rect x="43.0" y="188.58" width="0.6" height="2.4" rx="0.30" fill="#66b028"/>
<rect x="24.7" y="192.14" width="5.3" height="2.4" rx="0.50" fill="#66b028"/>
<rect x="31.6" y="192.14" width="2.4" height="2.4" rx="0.50" fill="#fcc400"/>
<rect x="35.6" y="192.14" width="2.8" height="2.4" rx="0.50" fill="#fcc400"/>
<rect x="45.0" y="192.14" width="6.6" height="2.4" rx="0.50" fill="#fcc400"/>
<rect x="51.6" y="192.14" width="1.4" height="2.4" rx="0.50" fill="#66b028"/>
<rect x="24.7" y="195.70" width="0.7" height="2.4" rx="0.35" fill="#66b028"/>
<rect x="25.4" y="195.70" width="1.0" height="2.4" rx="0.50" fill="#fcc400"/>
<rect x="27.6" y="195.70" width="1.4" height="2.4" rx="0.50" fill="#fcc400"/>
<rect x="30.0" y="195.70" width="2.0" height="2.4" rx="0.50" fill="#fcc400"/>
<rect x="33.0" y="195.70" width="11.0" height="2.4" rx="0.50" fill="#fcc400"/>
<rect x="44.0" y="195.70" width="1.6" height="2.4" rx="0.50" fill="#66b028"/>
<rect x="24.7" y="199.26" width="1.7" height="2.4" rx="0.50" fill="#66b028"/>
<rect x="28.3" y="199.26" width="1.5" height="2.4" rx="0.50" fill="#fcc400"/>
<rect x="36.0" y="199.26" width="1.9" height="2.4" rx="0.50" fill="#fcc400"/>
<rect x="45.6" y="199.26" width="3.4" height="2.4" rx="0.50" fill="#fcc400"/>
<rect x="50.4" y="199.26" width="6.0" height="2.4" rx="0.50" fill="#fcc400"/>
<rect x="66.0" y="199.26" width="1.2" height="2.4" rx="0.50" fill="#66b028"/>
<rect x="24.7" y="202.82" width="6.3" height="2.4" rx="0.50" fill="#fcc400"/>
<rect x="31.0" y="202.82" width="1.4" height="2.4" rx="0.50" fill="#66b028"/>
<rect x="24.7" y="206.37" width="4.3" height="2.4" rx="0.50" fill="#66b028"/>
<rect x="34.4" y="206.37" width="2.6" height="2.4" rx="0.50" fill="#66b028"/>
<rect x="39.0" y="206.37" width="2.0" height="2.4" rx="0.50" fill="#fcc400"/>
<rect x="42.4" y="206.37" width="10.6" height="2.4" rx="0.50" fill="#fcc400"/>
<rect x="53.0" y="206.37" width="2.0" height="2.4" rx="0.50" fill="#66b028"/>
<rect x="24.7" y="209.93" width="1.7" height="2.4" rx="0.50" fill="#66b028"/>
<rect x="26.4" y="209.93" width="5.2" height="2.4" rx="0.50" fill="#fcc400"/>
<rect x="24.7" y="213.49" width="1.3" height="2.4" rx="0.50" fill="#66b028"/>
<rect x="63.0" y="213.49" width="1.4" height="2.4" rx="0.50" fill="#fcc400"/>
<rect x="66.4" y="213.49" width="1.2" height="2.4" rx="0.50" fill="#fcc400"/>
<rect x="69.0" y="213.49" width="10.0" height="2.4" rx="0.50" fill="#fcc400"/>
<rect x="79.0" y="213.49" width="1.6" height="2.4" rx="0.50" fill="#66b028"/>
<rect x="24.7" y="217.05" width="0.7" height="2.4" rx="0.35" fill="#66b028"/>
<rect x="28.0" y="217.05" width="2.0" height="2.4" rx="0.50" fill="#66b028"/>
<rect x="30.0" y="217.05" width="2.4" height="2.4" rx="0.50" fill="#fcc400"/>
<rect x="34.0" y="217.05" width="4.0" height="2.4" rx="0.50" fill="#fcc400"/>
<rect x="43.0" y="217.05" width="6.0" height="2.4" rx="0.50" fill="#fcc400"/>
<rect x="49.0" y="217.05" width="1.4" height="2.4" rx="0.50" fill="#66b028"/>
<rect x="24.7" y="220.61" width="0.9" height="2.4" rx="0.45" fill="#66b028"/>
<rect x="28.0" y="220.61" width="2.0" height="2.4" rx="0.50" fill="#fcc400"/>
<rect x="65.6" y="220.61" width="6.8" height="2.4" rx="0.50" fill="#fcc400"/>
<rect x="92.0" y="220.61" width="3.0" height="2.4" rx="0.50" fill="#66b028"/>
<rect x="24.7" y="224.16" width="0.3" height="2.4" rx="0.15" fill="#66b028"/>
<rect x="32.0" y="224.16" width="1.6" height="2.4" rx="0.50" fill="#fcc400"/>
<rect x="45.0" y="224.16" width="5.0" height="2.4" rx="0.50" fill="#fcc400"/>
<rect x="51.6" y="224.16" width="3.4" height="2.4" rx="0.50" fill="#fcc400"/>
<rect x="56.0" y="224.16" width="2.0" height="2.4" rx="0.50" fill="#fcc400"/>
<rect x="24.7" y="227.72" width="3.3" height="2.4" rx="0.50" fill="#fcc400"/>
<rect x="32.0" y="227.72" width="1.6" height="2.4" rx="0.50" fill="#fcc400"/>
<rect x="43.6" y="227.72" width="6.8" height="2.4" rx="0.50" fill="#fcc400"/>
<rect x="24.7" y="231.28" width="2.9" height="2.4" rx="0.50" fill="#fcc400"/>
<rect x="42.0" y="231.28" width="2.4" height="2.4" rx="0.50" fill="#fcc400"/>
<rect x="24.7" y="234.84" width="3.3" height="2.4" rx="0.50" fill="#66b028"/>
<rect x="28.0" y="234.84" width="1.0" height="2.4" rx="0.50" fill="#fcc400"/>
<rect x="37.6" y="234.84" width="2.4" height="2.4" rx="0.50" fill="#fcc400"/>
<rect x="41.6" y="234.84" width="4.4" height="2.4" rx="0.50" fill="#fcc400"/>
<rect x="56.4" y="234.84" width="6.0" height="2.4" rx="0.50" fill="#fcc400"/>
<rect x="62.4" y="234.84" width="2.6" height="2.4" rx="0.50" fill="#66b028"/>
<rect x="24.7" y="238.40" width="1.3" height="2.4" rx="0.50" fill="#66b028"/>
<rect x="26.0" y="238.40" width="1.0" height="2.4" rx="0.50" fill="#fcc400"/>
<rect x="32.0" y="238.40" width="1.0" height="2.4" rx="0.50" fill="#fcc400"/>
<rect x="38.4" y="238.40" width="1.6" height="2.4" rx="0.50" fill="#fcc400"/>
<rect x="42.0" y="238.40" width="4.0" height="2.4" rx="0.50" fill="#fcc400"/>
<rect x="53.0" y="238.40" width="6.0" height="2.4" rx="0.50" fill="#fcc400"/>
<rect x="59.0" y="238.40" width="2.0" height="2.4" rx="0.50" fill="#66b028"/>
<rect x="24.7" y="241.95" width="1.3" height="2.4" rx="0.50" fill="#66b028"/>
<rect x="85.5" y="241.95" width="6.0" height="2.4" rx="0.50" fill="#66b028"/>
<rect x="101.4" y="241.95" width="2.1" height="2.4" rx="0.50" fill="#fcc400"/>
<rect x="106.5" y="241.95" width="3.9" height="2.4" rx="0.50" fill="#fcc400"/>
<rect x="113.4" y="241.95" width="6.0" height="2.4" rx="0.50" fill="#fcc400"/>
<rect x="119.4" y="241.95" width="1.5" height="2.4" rx="0.50" fill="#66b028"/>
<rect x="24.7" y="245.51" width="1.3" height="2.4" rx="0.50" fill="#fcc400"/>
<rect x="28.0" y="245.51" width="2.0" height="2.4" rx="0.50" fill="#fcc400"/>
<rect x="31.6" y="245.51" width="10.0" height="2.4" rx="0.50" fill="#fcc400"/>
<rect x="41.6" y="245.51" width="1.4" height="2.4" rx="0.50" fill="#66b028"/>
<rect x="24.7" y="249.07" width="0.7" height="2.4" rx="0.35" fill="#fcc400"/>
<rect x="120.0" y="249.07" width="1.2" height="2.4" rx="0.50" fill="#fcc400"/>
<rect x="124.0" y="249.07" width="1.4" height="2.4" rx="0.50" fill="#fcc400"/>
<rect x="126.6" y="249.07" width="3.9" height="2.4" rx="0.50" fill="#fcc400"/>
<rect x="132.0" y="249.07" width="6.0" height="2.4" rx="0.50" fill="#fcc400"/>
<rect x="138.0" y="249.07" width="1.5" height="2.4" rx="0.50" fill="#66b028"/>
<rect x="24.7" y="252.63" width="1.3" height="2.4" rx="0.50" fill="#66b028"/>
<rect x="26.0" y="252.63" width="2.0" height="2.4" rx="0.50" fill="#fcc400"/>
<rect x="124.5" y="252.63" width="4.5" height="2.4" rx="0.50" fill="#fcc400"/>
<rect x="129.6" y="252.63" width="3.9" height="2.4" rx="0.50" fill="#fcc400"/>
<rect x="134.4" y="252.63" width="6.6" height="2.4" rx="0.50" fill="#fcc400"/>
<rect x="141.0" y="252.63" width="1.2" height="2.4" rx="0.50" fill="#66b028"/>
<rect x="24.7" y="256.19" width="0.9" height="2.4" rx="0.45" fill="#66b028"/>
<rect x="65.0" y="256.19" width="2.0" height="2.4" rx="0.50" fill="#66b028"/>
<rect x="69.0" y="256.19" width="3.0" height="2.4" rx="0.50" fill="#fcc400"/>
<rect x="73.6" y="256.19" width="3.4" height="2.4" rx="0.50" fill="#fcc400"/>
<rect x="78.4" y="256.19" width="5.2" height="2.4" rx="0.50" fill="#fcc400"/>
<rect x="83.6" y="256.19" width="3.0" height="2.4" rx="0.50" fill="#66b028"/>
<rect x="24.7" y="259.74" width="1.3" height="2.4" rx="0.50" fill="#66b028"/>
<rect x="27.0" y="259.74" width="1.0" height="2.4" rx="0.50" fill="#fcc400"/>
<rect x="29.0" y="259.74" width="14.0" height="2.4" rx="0.50" fill="#fcc400"/>
<rect x="43.0" y="259.74" width="0.6" height="2.4" rx="0.30" fill="#66b028"/>
<rect x="24.7" y="263.30" width="0.7" height="2.4" rx="0.35" fill="#fcc400"/>
<rect x="37.6" y="263.30" width="1.4" height="2.4" rx="0.50" fill="#fcc400"/>
<rect x="41.6" y="263.30" width="1.4" height="2.4" rx="0.50" fill="#fcc400"/>
<rect x="46.0" y="263.30" width="1.6" height="2.4" rx="0.50" fill="#fcc400"/>
<rect x="63.0" y="263.30" width="2.0" height="2.4" rx="0.50" fill="#fcc400"/>
<rect x="73.6" y="263.30" width="2.4" height="2.4" rx="0.50" fill="#fcc400"/>
<rect x="24.7" y="266.86" width="2.3" height="2.4" rx="0.50" fill="#66b028"/>
<rect x="32.0" y="266.86" width="2.0" height="2.4" rx="0.50" fill="#fcc400"/>
<rect x="36.4" y="266.86" width="6.6" height="2.4" rx="0.50" fill="#fcc400"/>
<rect x="46.0" y="266.86" width="6.0" height="2.4" rx="0.50" fill="#fcc400"/>
<rect x="52.0" y="266.86" width="1.0" height="2.4" rx="0.50" fill="#66b028"/>
<rect x="24.7" y="270.42" width="2.3" height="2.4" rx="0.50" fill="#66b028"/>
<rect x="47.0" y="270.42" width="2.0" height="2.4" rx="0.50" fill="#fcc400"/>
<rect x="52.0" y="270.42" width="2.0" height="2.4" rx="0.50" fill="#fcc400"/>
<rect x="55.6" y="270.42" width="2.0" height="2.4" rx="0.50" fill="#fcc400"/>
<rect x="59.0" y="270.42" width="6.0" height="2.4" rx="0.50" fill="#fcc400"/>
<rect x="65.0" y="270.42" width="1.6" height="2.4" rx="0.50" fill="#66b028"/>
<rect x="24.7" y="273.98" width="0.7" height="2.4" rx="0.35" fill="#66b028"/>
<rect x="26.4" y="273.98" width="1.6" height="2.4" rx="0.50" fill="#fcc400"/>
<rect x="29.6" y="273.98" width="2.0" height="2.4" rx="0.50" fill="#fcc400"/>
<rect x="33.6" y="273.98" width="10.0" height="2.4" rx="0.50" fill="#fcc400"/>
<rect x="43.6" y="273.98" width="2.8" height="2.4" rx="0.50" fill="#66b028"/>
<rect x="24.7" y="277.53" width="0.7" height="2.4" rx="0.35" fill="#66b028"/>
<rect x="25.4" y="277.53" width="1.0" height="2.4" rx="0.50" fill="#fcc400"/>
<rect x="28.4" y="277.53" width="1.6" height="2.4" rx="0.50" fill="#fcc400"/>
<rect x="31.6" y="277.53" width="3.4" height="2.4" rx="0.50" fill="#fcc400"/>
<rect x="36.4" y="277.53" width="10.6" height="2.4" rx="0.50" fill="#fcc400"/>
<rect x="47.0" y="277.53" width="1.4" height="2.4" rx="0.50" fill="#66b028"/>
<rect x="24.7" y="281.09" width="0.9" height="2.4" rx="0.45" fill="#fcc400"/>
<rect x="27.6" y="281.09" width="2.0" height="2.4" rx="0.50" fill="#fcc400"/>
<rect x="31.0" y="281.09" width="9.4" height="2.4" rx="0.50" fill="#fcc400"/>
<rect x="24.7" y="284.65" width="3.3" height="2.4" rx="0.50" fill="#66b028"/>
<rect x="28.0" y="284.65" width="5.6" height="2.4" rx="0.50" fill="#fcc400"/>
<rect x="33.6" y="284.65" width="2.4" height="2.4" rx="0.50" fill="#66b028"/>
<rect x="24.7" y="288.21" width="1.3" height="2.4" rx="0.50" fill="#66b028"/>
<rect x="26.4" y="288.21" width="1.6" height="2.4" rx="0.50" fill="#fcc400"/>
<rect x="29.0" y="288.21" width="2.0" height="2.4" rx="0.50" fill="#fcc400"/>
<rect x="32.0" y="288.21" width="2.0" height="2.4" rx="0.50" fill="#fcc400"/>
<rect x="35.0" y="288.21" width="2.6" height="2.4" rx="0.50" fill="#fcc400"/>
<rect x="37.6" y="288.21" width="2.4" height="2.4" rx="0.50" fill="#66b028"/>
<rect x="24.7" y="291.77" width="4.3" height="2.4" rx="0.50" fill="#66b028"/>
<rect x="32.0" y="291.77" width="3.0" height="2.4" rx="0.50" fill="#66b028"/>
<rect x="35.0" y="291.77" width="2.0" height="2.4" rx="0.50" fill="#fcc400"/>
<rect x="38.0" y="291.77" width="12.0" height="2.4" rx="0.50" fill="#fcc400"/>
<rect x="50.0" y="291.77" width="3.6" height="2.4" rx="0.50" fill="#66b028"/>
<rect x="24.7" y="295.32" width="0.7" height="2.4" rx="0.35" fill="#66b028"/>
<rect x="25.4" y="295.32" width="12.2" height="2.4" rx="0.50" fill="#fcc400"/>
<rect x="24.7" y="298.88" width="6.3" height="2.4" rx="0.50" fill="#66b028"/>
<rect x="31.0" y="298.88" width="12.6" height="2.4" rx="0.50" fill="#fcc400"/>
<rect x="43.6" y="298.88" width="2.4" height="2.4" rx="0.50" fill="#66b028"/>
<rect x="24.7" y="302.44" width="0.7" height="2.4" rx="0.35" fill="#66b028"/>
<rect x="25.4" y="302.44" width="12.6" height="2.4" rx="0.50" fill="#fcc400"/>
<rect x="38.0" y="302.44" width="1.0" height="2.4" rx="0.50" fill="#66b028"/>
<rect x="24.7" y="306.00" width="0.7" height="2.4" rx="0.35" fill="#66b028"/>
<rect x="25.4" y="306.00" width="9.0" height="2.4" rx="0.50" fill="#fcc400"/>
<rect x="48.0" y="306.00" width="1.6" height="2.4" rx="0.50" fill="#fcc400"/>
<rect x="49.6" y="306.00" width="1.4" height="2.4" rx="0.50" fill="#66b028"/>
<rect x="24.7" y="309.56" width="1.3" height="2.4" rx="0.50" fill="#66b028"/>
<rect x="26.0" y="309.56" width="13.0" height="2.4" rx="0.50" fill="#fcc400"/>
<rect x="39.0" y="309.56" width="4.0" height="2.4" rx="0.50" fill="#66b028"/>
<rect x="24.7" y="313.11" width="4.9" height="2.4" rx="0.50" fill="#fcc400"/>
<rect x="24.7" y="316.67" width="4.9" height="2.4" rx="0.50" fill="#fcc400"/>
<rect x="24.7" y="320.23" width="0.7" height="2.4" rx="0.35" fill="#66b028"/>
<rect x="28.4" y="320.23" width="3.6" height="2.4" rx="0.50" fill="#fcc400"/>
<rect x="32.0" y="320.23" width="2.0" height="2.4" rx="0.50" fill="#66b028"/>
<rect x="24.7" y="323.79" width="0.9" height="2.4" rx="0.45" fill="#fcc400"/>
<rect x="31.0" y="323.79" width="3.4" height="2.4" rx="0.50" fill="#fcc400"/>
<rect x="34.4" y="323.79" width="2.0" height="2.4" rx="0.50" fill="#66b028"/>
<g stroke="#8e8e8e" stroke-width="0.8">
<line x1="316.4" y1="19.30" x2="508.0" y2="19.30"/>
<line x1="316.4" y1="22.85" x2="485.0" y2="22.85"/>
<line x1="316.4" y1="26.40" x2="492.0" y2="26.40"/>
<line x1="316.4" y1="29.95" x2="493.8" y2="29.95"/>
<line x1="316.4" y1="33.50" x2="495.2" y2="33.50"/>
<line x1="316.4" y1="37.06" x2="493.3" y2="37.06"/>
<line x1="316.4" y1="40.61" x2="493.3" y2="40.61"/>
<line x1="316.4" y1="44.16" x2="456.0" y2="44.16"/>
<line x1="316.4" y1="47.71" x2="493.0" y2="47.71"/>
<line x1="316.4" y1="51.26" x2="444.8" y2="51.26"/>
<line x1="316.4" y1="54.81" x2="394.8" y2="54.81"/>
<line x1="316.4" y1="58.36" x2="407.3" y2="58.36"/>
<line x1="316.4" y1="61.91" x2="496.1" y2="61.91"/>
<line x1="316.4" y1="65.46" x2="462.6" y2="65.46"/>
<line x1="316.4" y1="69.01" x2="502.7" y2="69.01"/>
<line x1="316.4" y1="72.56" x2="492.8" y2="72.56"/>
<line x1="316.4" y1="76.12" x2="493.8" y2="76.12"/>
<line x1="316.4" y1="79.67" x2="448.4" y2="79.67"/>
<line x1="316.4" y1="83.22" x2="489.0" y2="83.22"/>
<line x1="316.4" y1="86.77" x2="422.8" y2="86.77"/>
<line x1="316.4" y1="90.32" x2="468.0" y2="90.32"/>
<line x1="316.4" y1="93.87" x2="497.5" y2="93.87"/>
<line x1="316.4" y1="97.42" x2="509.8" y2="97.42"/>
<line x1="316.4" y1="100.97" x2="392.6" y2="100.97"/>
<line x1="316.4" y1="104.52" x2="499.7" y2="104.52"/>
<line x1="316.4" y1="108.08" x2="495.2" y2="108.08"/>
<line x1="316.4" y1="111.63" x2="499.2" y2="111.63"/>
<line x1="316.4" y1="115.18" x2="499.9" y2="115.18"/>
<line x1="316.4" y1="118.73" x2="492.8" y2="118.73"/>
<line x1="316.4" y1="122.28" x2="433.0" y2="122.28"/>
<line x1="316.4" y1="125.83" x2="478.6" y2="125.83"/>
<line x1="316.4" y1="129.38" x2="444.8" y2="129.38"/>
<line x1="316.4" y1="132.93" x2="478.6" y2="132.93"/>
<line x1="316.4" y1="136.48" x2="476.7" y2="136.48"/>
<line x1="316.4" y1="140.03" x2="473.9" y2="140.03"/>
<line x1="316.4" y1="143.59" x2="480.3" y2="143.59"/>
<line x1="316.4" y1="147.14" x2="465.4" y2="147.14"/>
<line x1="316.4" y1="150.69" x2="449.6" y2="150.69"/>
<line x1="316.4" y1="154.24" x2="439.4" y2="154.24"/>
<line x1="316.4" y1="157.79" x2="460.2" y2="157.79"/>
<line x1="316.4" y1="161.34" x2="481.0" y2="161.34"/>
<line x1="316.4" y1="164.89" x2="460.7" y2="164.89"/>
<line x1="316.4" y1="168.44" x2="503.9" y2="168.44"/>
<line x1="316.4" y1="171.99" x2="493.3" y2="171.99"/>
<line x1="316.4" y1="175.54" x2="447.2" y2="175.54"/>
<line x1="316.4" y1="179.10" x2="498.5" y2="179.10"/>
<line x1="316.4" y1="182.65" x2="496.1" y2="182.65"/>
<line x1="316.4" y1="186.20" x2="494.5" y2="186.20"/>
<line x1="316.4" y1="189.75" x2="492.5" y2="189.75"/>
<line x1="316.4" y1="193.30" x2="494.5" y2="193.30"/>
<line x1="316.4" y1="196.85" x2="508.0" y2="196.85"/>
<line x1="316.4" y1="200.40" x2="499.9" y2="200.40"/>
<line x1="316.4" y1="203.95" x2="390.7" y2="203.95"/>
<line x1="316.4" y1="207.50" x2="490.9" y2="207.50"/>
<line x1="316.4" y1="211.05" x2="380.6" y2="211.05"/>
<line x1="316.4" y1="214.61" x2="490.2" y2="214.61"/>
<line x1="316.4" y1="218.16" x2="482.6" y2="218.16"/>
<line x1="316.4" y1="221.71" x2="486.9" y2="221.71"/>
<line x1="316.4" y1="225.26" x2="460.2" y2="225.26"/>
<line x1="316.4" y1="228.81" x2="482.0" y2="228.81"/>
<line x1="316.4" y1="232.36" x2="388.4" y2="232.36"/>
<line x1="316.4" y1="235.91" x2="492.1" y2="235.91"/>
<line x1="316.4" y1="239.46" x2="493.8" y2="239.46"/>
<line x1="316.4" y1="243.01" x2="482.6" y2="243.01"/>
<line x1="316.4" y1="246.56" x2="500.9" y2="246.56"/>
<line x1="316.4" y1="250.12" x2="490.2" y2="250.12"/>
<line x1="316.4" y1="253.67" x2="489.7" y2="253.67"/>
<line x1="316.4" y1="257.22" x2="488.6" y2="257.22"/>
<line x1="316.4" y1="260.77" x2="490.4" y2="260.77"/>
<line x1="316.4" y1="264.32" x2="439.4" y2="264.32"/>
<line x1="316.4" y1="267.87" x2="486.7" y2="267.87"/>
<line x1="316.4" y1="271.42" x2="490.9" y2="271.42"/>
<line x1="316.4" y1="274.97" x2="488.1" y2="274.97"/>
<line x1="316.4" y1="278.52" x2="488.1" y2="278.52"/>
<line x1="316.4" y1="282.07" x2="489.0" y2="282.07"/>
<line x1="316.4" y1="285.62" x2="391.9" y2="285.62"/>
<line x1="316.4" y1="289.18" x2="428.7" y2="289.18"/>
<line x1="316.4" y1="292.73" x2="482.7" y2="292.73"/>
<line x1="316.4" y1="296.28" x2="456.0" y2="296.28"/>
<line x1="316.4" y1="299.83" x2="473.3" y2="299.83"/>
<line x1="316.4" y1="303.38" x2="472.8" y2="303.38"/>
<line x1="316.4" y1="306.93" x2="460.8" y2="306.93"/>
<line x1="316.4" y1="310.48" x2="472.1" y2="310.48"/>
<line x1="316.4" y1="314.03" x2="380.8" y2="314.03"/>
<line x1="316.4" y1="317.58" x2="377.3" y2="317.58"/>
<line x1="316.4" y1="321.14" x2="377.7" y2="321.14"/>
<line x1="316.4" y1="324.69" x2="375.4" y2="324.69"/>
</g>
<g stroke-width="2.3" stroke-linecap="round">
<line x1="364.1" y1="19.30" x2="491.0" y2="19.30" stroke="#66b028"/>
<line x1="343.4" y1="22.85" x2="467.4" y2="22.85" stroke="#66b028"/>
<line x1="347.4" y1="26.40" x2="470.9" y2="26.40" stroke="#66b028"/>
<line x1="344.1" y1="29.95" x2="470.9" y2="29.95" stroke="#66b028"/>
<line x1="354.0" y1="33.50" x2="472.8" y2="33.50" stroke="#66b028"/>
<line x1="351.8" y1="37.06" x2="477.5" y2="37.06" stroke="#66b028"/>
<line x1="351.8" y1="40.61" x2="478.0" y2="40.61" stroke="#66b028"/>
<line x1="352.8" y1="44.16" x2="454.4" y2="44.16" stroke="#66b028"/>
<line x1="342.9" y1="47.71" x2="472.8" y2="47.71" stroke="#66b028"/>
<line x1="350.0" y1="51.26" x2="443.0" y2="51.26" stroke="#66b028"/>
<line x1="317.8" y1="54.81" x2="371.4" y2="54.81" stroke="#66b028"/>
<line x1="345.8" y1="58.36" x2="397.2" y2="58.36" stroke="#66b028"/>
<line x1="346.5" y1="61.91" x2="473.7" y2="61.91" stroke="#66b028"/>
<line x1="317.8" y1="65.46" x2="439.7" y2="65.46" stroke="#66b028"/>
<line x1="348.1" y1="69.01" x2="473.7" y2="69.01" stroke="#66b028"/>
<line x1="346.9" y1="72.56" x2="473.2" y2="72.56" stroke="#66b028"/>
<line x1="346.9" y1="76.12" x2="473.2" y2="76.12" stroke="#66b028"/>
<line x1="344.6" y1="79.67" x2="430.7" y2="79.67" stroke="#66b028"/>
<line x1="344.6" y1="83.22" x2="466.2" y2="83.22" stroke="#66b028"/>
<line x1="317.8" y1="86.77" x2="400.8" y2="86.77" stroke="#66b028"/>
<line x1="329.2" y1="90.32" x2="450.1" y2="90.32" stroke="#66b028"/>
<line x1="348.6" y1="93.87" x2="482.7" y2="93.87" stroke="#66b028"/>
<line x1="364.2" y1="97.42" x2="495.0" y2="97.42" stroke="#66b028"/>
<line x1="333.5" y1="100.97" x2="381.8" y2="100.97" stroke="#66b028"/>
<line x1="352.8" y1="104.52" x2="477.5" y2="104.52" stroke="#66b028"/>
<line x1="350.0" y1="108.08" x2="475.2" y2="108.08" stroke="#66b028"/>
<line x1="350.0" y1="111.63" x2="476.8" y2="111.63" stroke="#66b028"/>
<line x1="350.0" y1="115.18" x2="476.8" y2="115.18" stroke="#66b028"/>
<line x1="350.0" y1="118.73" x2="472.8" y2="118.73" stroke="#66b028"/>
<line x1="317.8" y1="122.28" x2="415.6" y2="122.28" stroke="#66b028"/>
<line x1="342.2" y1="125.83" x2="465.0" y2="125.83" stroke="#66b028"/>
<line x1="317.8" y1="129.38" x2="430.7" y2="129.38" stroke="#66b028"/>
<line x1="348.1" y1="132.93" x2="461.0" y2="132.93" stroke="#66b028"/>
<line x1="350.9" y1="136.48" x2="459.1" y2="136.48" stroke="#66b028"/>
<line x1="339.8" y1="140.03" x2="457.2" y2="140.03" stroke="#66b028"/>
<line x1="339.8" y1="143.59" x2="462.6" y2="143.59" stroke="#66b028"/>
<line x1="361.6" y1="147.14" x2="446.8" y2="147.14" stroke="#66b028"/>
<line x1="321.6" y1="150.69" x2="431.9" y2="150.69" stroke="#66b028"/>
<line x1="317.8" y1="154.24" x2="357.2" y2="154.24" stroke="#66b028"/>
<line x1="368.2" y1="154.24" x2="423.6" y2="154.24" stroke="#66b028"/>
<line x1="335.1" y1="157.79" x2="379.5" y2="157.79" stroke="#66b028"/>
<line x1="389.5" y1="157.79" x2="445.4" y2="157.79" stroke="#66b028"/>
<line x1="352.4" y1="161.34" x2="400.2" y2="161.34" stroke="#66b028"/>
<line x1="404.8" y1="161.34" x2="466.9" y2="161.34" stroke="#66b028"/>
<line x1="358.0" y1="164.89" x2="378.5" y2="164.89" stroke="#66b028"/>
<line x1="366.5" y1="168.44" x2="430.7" y2="168.44" stroke="#66b028"/>
<line x1="437.2" y1="168.44" x2="484.6" y2="168.44" stroke="#66b028"/>
<line x1="350.0" y1="171.99" x2="474.9" y2="171.99" stroke="#66b028"/>
<line x1="317.8" y1="175.54" x2="428.4" y2="175.54" stroke="#66b028"/>
<line x1="349.3" y1="179.10" x2="479.2" y2="179.10" stroke="#66b028"/>
<line x1="349.3" y1="182.65" x2="477.5" y2="182.65" stroke="#66b028"/>
<line x1="348.1" y1="186.20" x2="476.1" y2="186.20" stroke="#66b028"/>
<line x1="348.1" y1="189.75" x2="473.7" y2="189.75" stroke="#66b028"/>
<line x1="348.1" y1="193.30" x2="470.9" y2="193.30" stroke="#66b028"/>
<line x1="358.8" y1="196.85" x2="489.1" y2="196.85" stroke="#66b028"/>
<line x1="355.2" y1="200.40" x2="480.4" y2="200.40" stroke="#66b028"/>
<line x1="317.8" y1="203.95" x2="341.9" y2="203.95" stroke="#66b028"/>
<line x1="356.4" y1="203.95" x2="372.4" y2="203.95" stroke="#66b028"/>
<line x1="349.3" y1="207.50" x2="471.4" y2="207.50" stroke="#66b028"/>
<line x1="333.9" y1="211.05" x2="346.4" y2="211.05" stroke="#66b028"/>
<line x1="346.5" y1="214.61" x2="472.8" y2="214.61" stroke="#66b028"/>
<line x1="345.8" y1="218.16" x2="469.2" y2="218.16" stroke="#66b028"/>
<line x1="345.8" y1="221.71" x2="471.4" y2="221.71" stroke="#66b028"/>
<line x1="386.4" y1="225.26" x2="445.4" y2="225.26" stroke="#66b028"/>
<line x1="331.6" y1="228.81" x2="362.0" y2="228.81" stroke="#fcc400"/>
<line x1="415.5" y1="228.81" x2="480.4" y2="228.81" stroke="#66b028"/>
<line x1="356.4" y1="232.36" x2="373.8" y2="232.36" stroke="#66b028"/>
<line x1="352.4" y1="235.91" x2="479.2" y2="235.91" stroke="#66b028"/>
<line x1="354.0" y1="239.46" x2="480.4" y2="239.46" stroke="#66b028"/>
<line x1="342.9" y1="243.01" x2="469.2" y2="243.01" stroke="#66b028"/>
<line x1="361.8" y1="246.56" x2="486.7" y2="246.56" stroke="#66b028"/>
<line x1="354.8" y1="250.12" x2="476.8" y2="250.12" stroke="#66b028"/>
<line x1="351.8" y1="253.67" x2="474.9" y2="253.67" stroke="#66b028"/>
<line x1="351.8" y1="257.22" x2="474.5" y2="257.22" stroke="#66b028"/>
<line x1="352.1" y1="260.77" x2="476.1" y2="260.77" stroke="#66b028"/>
<line x1="407.8" y1="264.32" x2="424.8" y2="264.32" stroke="#66b028"/>
<line x1="350.0" y1="267.87" x2="473.2" y2="267.87" stroke="#66b028"/>
<line x1="367.5" y1="271.42" x2="407.9" y2="271.42" stroke="#66b028"/>
<line x1="416.2" y1="271.42" x2="475.6" y2="271.42" stroke="#66b028"/>
<line x1="350.9" y1="274.97" x2="474.5" y2="274.97" stroke="#66b028"/>
<line x1="350.9" y1="278.52" x2="474.5" y2="278.52" stroke="#66b028"/>
<line x1="350.9" y1="282.07" x2="475.6" y2="282.07" stroke="#66b028"/>
<line x1="319.3" y1="285.62" x2="378.2" y2="285.62" stroke="#66b028"/>
<line x1="371.3" y1="289.18" x2="427.2" y2="289.18" stroke="#66b028"/>
<line x1="350.0" y1="292.73" x2="474.1" y2="292.73" stroke="#66b028"/>
<line x1="319.8" y1="296.28" x2="424.2" y2="296.28" stroke="#f0527c"/>
<line x1="337.5" y1="299.83" x2="441.9" y2="299.83" stroke="#f0527c"/>
<line x1="332.8" y1="303.38" x2="440.2" y2="303.38" stroke="#f0527c"/>
<line x1="332.8" y1="306.93" x2="439.1" y2="306.93" stroke="#f0527c"/>
<line x1="335.1" y1="310.48" x2="439.6" y2="310.48" stroke="#f0527c"/>
<line x1="334.4" y1="314.03" x2="374.8" y2="314.03" stroke="#f0527c"/>
<line x1="334.4" y1="317.58" x2="371.4" y2="317.58" stroke="#f0527c"/>
<line x1="327.3" y1="321.14" x2="366.0" y2="321.14" stroke="#118a80"/>
<line x1="326.8" y1="324.69" x2="364.1" y2="324.69" stroke="#118a80"/>
</g>
<g stroke="#9a9a9a" stroke-width="0.5">
<line x1="24.5" y1="331.6" x2="282" y2="331.6"/>
<line x1="24.7" y1="331.6" x2="24.7" y2="332.8"/>
<line x1="71.4" y1="331.6" x2="71.4" y2="332.8"/>
<line x1="118.2" y1="331.6" x2="118.2" y2="332.8"/>
<line x1="164.9" y1="331.6" x2="164.9" y2="332.8"/>
<line x1="211.7" y1="331.6" x2="211.7" y2="332.8"/>
<line x1="258.4" y1="331.6" x2="258.4" y2="332.8"/>
<line x1="281.8" y1="331.6" x2="281.8" y2="332.8"/>
<line x1="316.4" y1="331.6" x2="526" y2="331.6"/>
<line x1="316.4" y1="331.6" x2="316.4" y2="332.8"/>
<line x1="346.3" y1="331.6" x2="346.3" y2="332.8"/>
<line x1="376.2" y1="331.6" x2="376.2" y2="332.8"/>
<line x1="406.1" y1="331.6" x2="406.1" y2="332.8"/>
<line x1="436.0" y1="331.6" x2="436.0" y2="332.8"/>
<line x1="465.9" y1="331.6" x2="465.9" y2="332.8"/>
<line x1="495.8" y1="331.6" x2="495.8" y2="332.8"/>
<line x1="525.7" y1="331.6" x2="525.7" y2="332.8"/>
</g>
<g font-size="4.8" font-weight="bold" fill="#111" text-anchor="middle">
<text x="25.0" y="337.3">0</text>
<text x="71.7" y="337.3">6000</text>
<text x="118.5" y="337.3">12,000</text>
<text x="165.2" y="337.3">18,000</text>
<text x="212.0" y="337.3">24,000</text>
<text x="258.7" y="337.3">30,000</text>
<text x="282.1" y="337.3">33,000</text>
<text x="316.7" y="337.3">0</text>
<text x="346.6" y="337.3">100</text>
<text x="376.5" y="337.3">200</text>
<text x="406.4" y="337.3">300</text>
<text x="436.3" y="337.3">400</text>
<text x="466.2" y="337.3">500</text>
<text x="496.1" y="337.3">600</text>
<text x="526.0" y="337.3">700</text>
</g>
<g font-size="3.2" font-weight="bold" fill="#111" text-anchor="middle">
<text x="23.3" y="330.3">5'</text><text x="282.8" y="330.3">3'</text>
<text x="315.2" y="330.3">5'</text><text x="528" y="330.3">3'</text>
</g>
<rect x="240.9" y="22.5" width="8.2" height="3.4" fill="#66b028"/>
<rect x="240.9" y="30.6" width="8.2" height="3.4" fill="#fcc400"/>
<g font-size="4.2" fill="#1a1a1a" font-weight="bold">
<text x="250.5" y="25.5" font-weight="normal" fill="#333" stroke="#333" stroke-width="0.1">UTR</text><text x="250.5" y="33.6" font-weight="normal" fill="#333" stroke="#333" stroke-width="0.1">CDS</text>
<text x="531.9" y="21.7">PTR2</text>
<text x="531.9" y="29.1">HSP70</text>
<text x="531.9" y="36.8">MFS_1</text>
<text x="531.9" y="45.5">NAR2</text>
</g>
<g stroke-width="2.0" stroke-linecap="round">
<line x1="517.7" y1="20.2" x2="529.2" y2="20.2" stroke="#66b028"/>
<line x1="517.7" y1="27.6" x2="529.2" y2="27.6" stroke="#fcc400"/>
<line x1="517.7" y1="35.3" x2="529.2" y2="35.3" stroke="#f0527c"/>
<line x1="517.7" y1="44" x2="529.2" y2="44" stroke="#118a80"/>
</g>
</svg>
</body></html>
